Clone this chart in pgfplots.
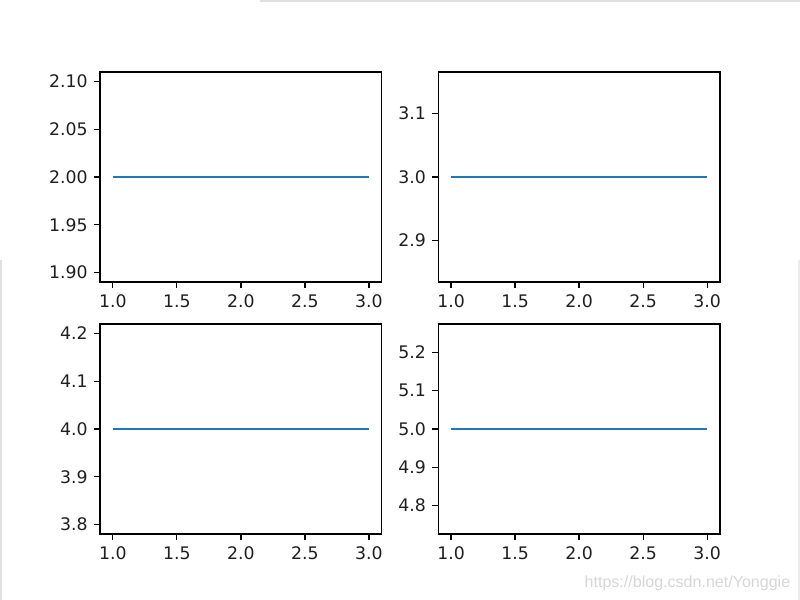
\documentclass[border=0pt]{standalone}
\usepackage{pgfplots}
\pgfplotsset{compat=1.18}
\usepackage{fontspec}
\setmainfont{DejaVu Sans}
\newfontfamily\wmfont{Liberation Sans}
\definecolor{mplblue}{HTML}{1F77B4}
\pgfplotsset{
  mpl/.style={
    scale only axis,
    width=2.818in, height=2.1in,
    anchor=south west,
    xmin=0.9, xmax=3.1,
    xtick={1.0,1.5,2.0,2.5,3.0},
    tick align=outside,
    major tick length=4.375pt,
    tick style={line width=0.9pt, black},
    axis line style={line width=0.9pt},
    xtick pos=bottom, ytick pos=left,
    /pgf/number format/assume math mode=true,
    tick label style={font=\fontsize{12.5}{15}\selectfont, inner sep=0pt, text=black!88},
    xticklabel style={yshift=-4.4pt},
    yticklabel style={xshift=-4.4pt},
    xticklabel={\pgfmathprintnumber[fixed,fixed zerofill,precision=1]{\tick}},
    cycle list={{mplblue, line width=2.1pt}},
  }
}
\begin{document}
\begin{tikzpicture}
\path[use as bounding box] (0in,0in) rectangle (8in,6in);
\draw[black!12, line width=1.5pt] (2.6in,5.995in) -- (8in,5.995in);
\draw[black!12, line width=1.5pt] (0.005in,0in) -- (0.005in,3.4in);
\draw[black!8, line width=1pt] (7.99in,0in) -- (7.99in,3.4in);
% top-left
\begin{axis}[mpl, at={(1in,3.18in)}, ymin=1.89, ymax=2.11,
  ytick={1.90,1.95,2.00,2.05,2.10},
  yticklabel={\pgfmathprintnumber[fixed,fixed zerofill,precision=2]{\tick}}]
\addplot+[line width=2.1pt] coordinates {(1,2) (2,2) (3,2)};
\end{axis}
% top-right
\begin{axis}[mpl, at={(4.382in,3.18in)}, ymin=2.835, ymax=3.165,
  ytick={2.9,3.0,3.1},
  yticklabel={\pgfmathprintnumber[fixed,fixed zerofill,precision=1]{\tick}}]
\addplot+[line width=2.1pt] coordinates {(1,3) (2,3) (3,3)};
\end{axis}
% bottom-left
\begin{axis}[mpl, at={(1in,0.66in)}, ymin=3.78, ymax=4.22,
  ytick={3.8,3.9,4.0,4.1,4.2},
  yticklabel={\pgfmathprintnumber[fixed,fixed zerofill,precision=1]{\tick}}]
\addplot+[line width=2.1pt] coordinates {(1,4) (2,4) (3,4)};
\end{axis}
% bottom-right
\begin{axis}[mpl, at={(4.382in,0.66in)}, ymin=4.725, ymax=5.275,
  ytick={4.8,4.9,5.0,5.1,5.2},
  yticklabel={\pgfmathprintnumber[fixed,fixed zerofill,precision=1]{\tick}}]
\addplot+[line width=2.1pt] coordinates {(1,5) (2,5) (3,5)};
\end{axis}
\node[anchor=base east, text=black!16, font=\wmfont\fontsize{11.6}{14}\selectfont, inner sep=0pt] at (7.905in,0.13in) {https://blog.csdn.net/Yonggie};
\end{tikzpicture}
\end{document}
